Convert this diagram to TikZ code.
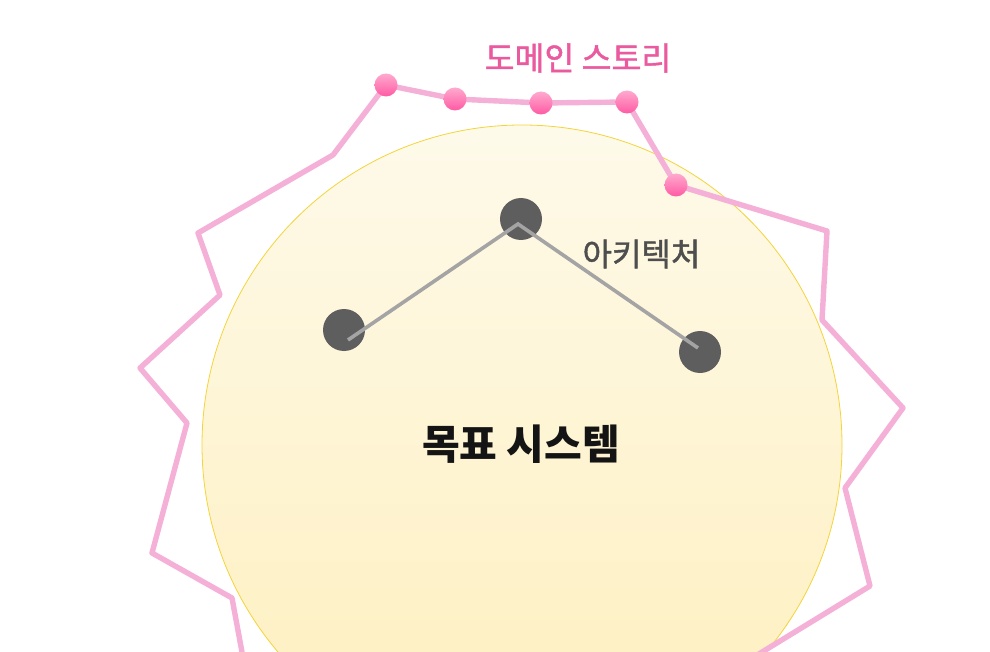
\documentclass[tikz,border=0pt]{standalone}
\usepackage{fontspec}
\newfontfamily\kr{Noto Sans CJK KR}
\newfontfamily\krm[FakeBold=1.4]{Noto Sans CJK KR}
\usetikzlibrary{decorations.pathmorphing}
\definecolor{crayon}{HTML}{F5B0D7}
\definecolor{pinktext}{HTML}{EA5A9F}
\definecolor{balltop}{HTML}{FFAACE}
\definecolor{ballbot}{HTML}{FF5AA4}
\definecolor{darkdot}{HTML}{5E5E5E}
\definecolor{linkgray}{HTML}{A4A4A4}
\definecolor{archtext}{HTML}{4E4E4E}
\definecolor{suntop}{HTML}{FEFAEA}
\definecolor{sunbot}{HTML}{FEEFBD}
\definecolor{sunedge}{HTML}{F4D43A}
\tikzset{
  pinkball/.style={circle, minimum size=23pt, inner sep=0pt, top color=balltop, bottom color=ballbot, draw=none},
  archdot/.style={circle, minimum size=42pt, inner sep=0pt, fill=darkdot},
  crayonline/.style={draw=crayon, line width=5.4pt, line join=round, line cap=round},
  crayonrough/.style={draw=crayon, line width=1.6pt, line join=round, opacity=0.7,
     decorate, decoration={random steps, segment length=1.6pt, amplitude=1.6pt}},
  link/.style={draw=linkgray, line width=3.6pt},
}
\begin{document}
\begin{tikzpicture}[x=1pt,y=-1pt]
\useasboundingbox (0,0) rectangle (990,652);
\clip (0,0) rectangle (990,652);
% target system circle
\shade[top color=suntop, bottom color=sunbot] (522,445) circle (320);
\draw[sunedge, line width=0.8pt] (522,445) circle (320);
% domain story polygon
\coordinate (q0) at (247,700);
\coordinate (q1) at (242,652);
\coordinate (q2) at (232,598);
\coordinate (q3) at (152,553);
\coordinate (q4) at (187,423);
\coordinate (q5) at (140,368);
\coordinate (q6) at (220,295);
\coordinate (q7) at (198,233);
\coordinate (q8) at (333,155);
\coordinate (p1) at (386,85);
\coordinate (p2) at (455,99);
\coordinate (p3) at (541,103);
\coordinate (p4) at (627,102);
\coordinate (p5) at (676,185);
\coordinate (r1) at (827,231);
\coordinate (r2) at (822,320);
\coordinate (r3) at (903,408);
\coordinate (r4) at (845,488);
\coordinate (r5) at (870,586);
\coordinate (r6) at (700,690);
\foreach \s in {crayonline, crayonrough}{
  \path[\s] (q0) -- (q1) -- (q2) -- (q3) -- (q4) -- (q5) -- (q6) -- (q7) -- (q8) -- (p1)
    -- (p2) -- (p3) -- (p4) -- (p5) -- (r1) -- (r2) -- (r3) -- (r4) -- (r5) -- (r6);
}
\path[crayonrough, decoration={random steps, segment length=2.3pt, amplitude=2pt}, opacity=0.5]
  (q0) -- (q1) -- (q2) -- (q3) -- (q4) -- (q5) -- (q6) -- (q7) -- (q8) -- (p1)
    -- (p2) -- (p3) -- (p4) -- (p5) -- (r1) -- (r2) -- (r3) -- (r4) -- (r5) -- (r6);
\node[pinkball] (b1) at (p1) {};
\node[pinkball] (b2) at (p2) {};
\node[pinkball] (b3) at (p3) {};
\node[pinkball] (b4) at (p4) {};
\node[pinkball] (b5) at (p5) {};
% architecture
\node[archdot] (d1) at (344,330) {};
\node[archdot] (d2) at (521,219) {};
\node[archdot] (d3) at (700,352) {};
\coordinate (l1) at (348,340);
\coordinate (l2) at (518,224);
\coordinate (l3) at (698,348);
\draw[link] (l1) -- (l2) -- (l3);
% labels
\node[text=pinktext, font=\krm\fontsize{32.5}{38}\selectfont, inner sep=0pt] (story) at (578,58) {도메인 스토리};
\node[text=archtext, font=\krm\fontsize{32}{38}\selectfont, inner sep=0pt] (arch) at (641.5,254) {아키텍처};
\node[text=black!92, font=\kr\bfseries\fontsize{41}{46}\selectfont, inner sep=0pt] (target) at (521,444) {목표 시스템};
\end{tikzpicture}
\end{document}
